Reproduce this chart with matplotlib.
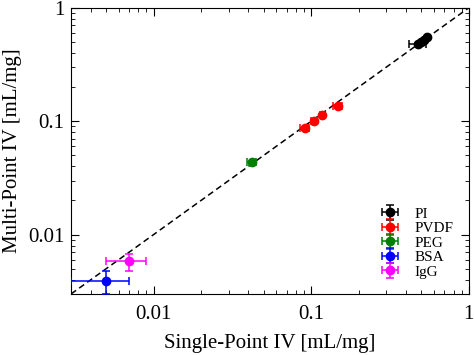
import matplotlib
matplotlib.use("Agg")
import matplotlib.pyplot as plt
import numpy as np

plt.rcParams['font.family'] = ['Liberation Serif', 'DejaVu Serif']
plt.rcParams['mathtext.fontset'] = 'stix'

# single-point IV (x), multi-point IV (y) and their errors, per polymer
names = ["PI", "PVDF", "PEG", "BSA", "IgG"]
colors = ["black", "red", "green", "blue", "magenta"]

pi_x = [0.475, 0.50, 0.52, 0.545]
pi_y = [0.48, 0.50, 0.52, 0.55]
pi_xerr = [0.06, 0.01, 0.01, 0.01]
pi_yerr = [0.01, 0.01, 0.01, 0.01]

pvdf_x = [0.0914, 0.104, 0.117, 0.148]
pvdf_y = [0.0863, 0.101, 0.114, 0.135]
pvdf_xerr = [0.006, 0.004, 0.004, 0.01]
pvdf_yerr = [0.002, 0.002, 0.002, 0.003]

peg_x = [0.042]
peg_y = [0.0436]
peg_xerr = [0.003]
peg_yerr = [0.001]

bsa_x = [0.0050]
bsa_y = [0.0039]
bsa_xerr = [0.002]
bsa_yerr = [0.0009]

igg_x = [0.0070]
igg_y = [0.0058]
igg_xerr = [0.002]
igg_yerr = [0.001]

series = [
    (pi_x, pi_y, pi_xerr, pi_yerr),
    (pvdf_x, pvdf_y, pvdf_xerr, pvdf_yerr),
    (peg_x, peg_y, peg_xerr, peg_yerr),
    (bsa_x, bsa_y, bsa_xerr, bsa_yerr),
    (igg_x, igg_y, igg_xerr, igg_yerr),
]

lim = [0.003, 1.0]

fig = plt.figure(figsize=(4.74, 3.55), dpi=100)
ax = fig.add_axes([0.150, 0.172, 0.839, 0.806])

# parity line
ax.plot(lim, lim, 'k--', lw=1.1, dashes=(4, 2.5), zorder=1)

for name, col, (x, y, xe, ye) in zip(names, colors, series):
    ax.errorbar(x, y, xerr=xe, yerr=ye, fmt='o', color=col, ms=6,
                capsize=3, elinewidth=1.1, capthick=1.1, label=name, zorder=3)

ax.set_xscale('log')
ax.set_yscale('log')
ax.set_xlim(lim)
ax.set_ylim(lim)
ax.set_xticks([0.01, 0.1, 1])
ax.set_xticklabels(["0.01", "0.1", "1"])
ax.set_yticks([0.01, 0.1, 1])
ax.set_yticklabels(["0.01", "0.1", "1"])

ax.tick_params(which='both', direction='in', top=True, right=True,
               labelsize=15)
ax.tick_params(which='major', length=6, width=0.8)
ax.tick_params(which='minor', length=3, width=0.6)
ax.tick_params(axis='x', pad=8)
ax.tick_params(axis='y', pad=5)

ax.set_xlabel("Single-Point IV [mL/mg]", fontsize=15, labelpad=7)
ax.set_ylabel("Multi-Point IV [mL/mg]", fontsize=15, labelpad=4)

ax.legend(loc='lower right', frameon=False, fontsize=11, handlelength=1.2,
          handletextpad=1.0, labelspacing=0.05, borderaxespad=0.6)

fig.savefig("out.png", dpi=100)
